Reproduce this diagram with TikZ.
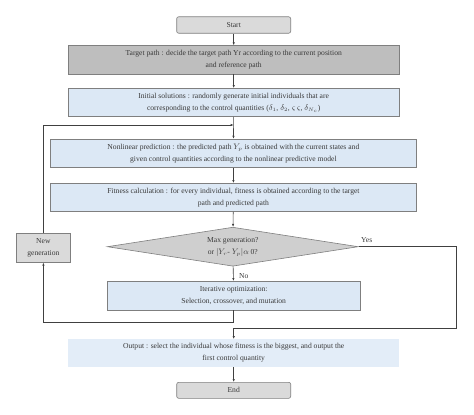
\documentclass[tikz,border=0pt]{standalone}
\usepackage{fontspec}
\setmainfont{Liberation Serif}
\usetikzlibrary{shapes.geometric,arrows.meta}
\definecolor{lblue}{HTML}{DCE8F5}
\definecolor{obl}{HTML}{E3EDF8}
\definecolor{dgray}{HTML}{BEBEBE}
\definecolor{lgray}{HTML}{DADADA}
\definecolor{bord}{HTML}{7F7F7F}
\definecolor{txt}{HTML}{3A3A3A}
\tikzset{
  every node/.style={font=\fontsize{7.6}{12}\selectfont, text=txt, align=center, inner sep=0pt},
  box/.style={draw=bord, line width=0.6pt, fill=lblue},
  term/.style={draw=bord, line width=0.6pt, fill=lgray, rounded corners=2pt},
  conn/.style={draw=black!75, line width=0.6pt},
  arr/.style={conn, -{Latex[length=3pt,width=2.4pt]}},
}
\begin{document}
\begin{tikzpicture}[x=1pt,y=-1pt]
\useasboundingbox (0,0) rectangle (474,415);
% nodes (drawn as rectangles, named by nodes)
\node[term, minimum width=114pt, minimum height=16.5pt] (start) at (233.7,25) {Start};
\node[box, fill=dgray, minimum width=330.5pt, minimum height=28.3pt] (target) at (233.7,59.8)
  {Target path : decide the target path Yr according to the current position\\and reference path};
\node[box, minimum width=330.5pt, minimum height=28.3pt] (init) at (233.7,102.5)
  {Initial solutions : randomly generate initial individuals that are\\corresponding to the control quantities ($\delta_1$, $\delta_2$, $\varsigma\,\varsigma$, $\delta_{N_c}$)};
\node[box, minimum width=366.7pt, minimum height=28.3pt] (nonlin) at (233.4,153.2)
  {Nonlinear prediction : the predicted path $Y_p$ is obtained with the current states and\\given control quantities according to the nonlinear predictive model};
\node[box, minimum width=366.7pt, minimum height=28.3pt] (fit) at (233.4,197.5)
  {Fitness calculation : for every individual, fitness is obtained according to the target\\path and predicted path};
\node[diamond, draw=bord, line width=0.6pt, fill=lgray!95!black, minimum width=251pt, minimum height=39pt, aspect=6.4, inner sep=0pt] (dec) at (232.8,246.7) {};
\node at (232.8,246.7) {Max generation?\\or $|Y_r$- $Y_p|\alpha$ 0?};
\node[box, fill=lgray, minimum width=53.3pt, minimum height=29pt] (newgen) at (43.4,247.8) {New\\generation};
\node[box, minimum width=252.7pt, minimum height=28.7pt] (iter) at (233.7,295.7)
  {Iterative optimization:\\Selection, crossover, and mutation};
\node[fill=obl, minimum width=330.5pt, minimum height=27.4pt] (out) at (233.7,353)
  {Output : select the individual whose fitness is the biggest, and output the\\first control quantity};
\node[term, minimum width=114pt, minimum height=16pt] (end) at (233.7,390.3) {End};
% labels
\node[anchor=west] (yes) at (361,240) {Yes};
\node[anchor=west] (no) at (239,276.5) {No};
% helper coordinates
\coordinate (j1) at (233.7,125);
\coordinate (lt) at (43.4,125);
\coordinate (lb) at (43.4,322.7);
\coordinate (ib) at (233.7,322.7);
\coordinate (yr) at (456.7,246.7);
\coordinate (yb) at (456.7,328.3);
\coordinate (j2) at (233.7,328.3);
% connectors
\draw[arr] (start) -- (target);
\draw[arr] (target) -- (init);
\draw[arr] (init) -- (nonlin);
\draw[arr] (nonlin) -- (fit);
\draw[arr] (fit) -- (dec);
\draw[arr] (dec) -- (iter);
\draw[conn] (newgen.north) -- (lt);
\draw[arr] (lt) -- (j1);
\draw[conn] (iter.south) -- (ib) -- (lb);
\draw[arr] (lb) -- (newgen.south);
\draw[conn] (dec.east) -- (yr) -- (yb) -- (j2);
\draw[arr] (j2) -- (out);
\draw[arr] (out) -- (end);
\end{tikzpicture}
\end{document}
